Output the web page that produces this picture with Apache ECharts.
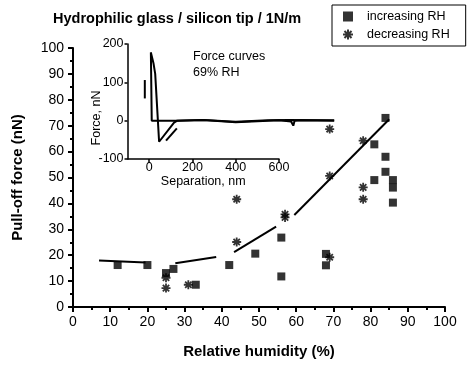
<!DOCTYPE html>
<html>
<head>
<meta charset="utf-8">
<script src="https://cdn.jsdelivr.net/npm/echarts@6/dist/echarts.min.js"></script>
<style>
  html, body { margin: 0; padding: 0; background: #fff; }
  #chart { width: 474px; height: 366px; }
</style>
</head>
<body>
<div id="chart"></div>
<script>
// main plot: pull-off force vs relative humidity
const incRH = [12, 20, 25, 27, 33, 42, 49, 56, 56, 68, 68, 81, 81, 84, 84, 84, 86, 86, 86]
const incForce = [16.2, 16.2, 13.1, 14.7, 8.6, 16.2, 20.6, 26.8, 11.8, 20.5, 16.1, 62.8, 49, 73, 58, 52.2, 49, 46.1, 40.3]

const decRH = [25, 25, 31, 44, 44, 57, 57, 69, 69, 69, 78, 78, 78]
const decForce = [11.3, 7.3, 8.6, 41.6, 25.1, 35.8, 34.6, 68.7, 50.6, 19.2, 64.2, 46.2, 41.6]

// fitted line segments [[x0, y0], [x1, y1]]
const fitSegments = [
  [[7, 18], [19.5, 17.2]],
  [[27.5, 16.9], [38.5, 19.3]],
  [[43.3, 21.2], [54.6, 31]],
  [[59.5, 35.5], [85, 72.5]]
]

// inset: force curves at 69% RH (curve runs past the drawn axis end)
const approachSep = [855, 700, 672, 666, 656, 600, 400, 250, 120, 12, 8]
const approachForce = [0, 1, 0, -13, -2, 1, -4, 2, 0, 0, 178]
const retractSep = [8, 20, 28, 46, 115, 130, 250, 400, 550, 640, 855]
const retractForce = [178, 150, 122, -55, -5, 0, 2, -3, 1, 2, 1]
const snapSep = [78, 128]
const snapForce = [-52, -20]
const markSep = [-20, -20]
const markForce = [58, 106]

const insetSepMin = -100
const insetSepAxisMax = 600
const insetSepDataMax = 860

const zip = (xs, ys) => xs.map((x, i) => [x, ys[i]])

const starPath = 'path://M-1,-5L1,-5L1,5L-1,5Z M-5,-1L5,-1L5,1L-5,1Z ' +
  'M-2.83,-4.24L4.24,2.83L2.83,4.24L-4.24,-2.83Z ' +
  'M2.83,-4.24L4.24,-2.83L-2.83,4.24L-4.24,2.83Z'

const font = 'Liberation Sans'

const chart = echarts.init(document.getElementById('chart'))

const insetLeft = 127.5
const insetWidth = 151.5
// wider hidden grid with the same scale so the curve can extend beyond 600 nm
const insetDataWidth = insetWidth * (insetSepDataMax - insetSepMin) / (insetSepAxisMax - insetSepMin)

const fitSeries = fitSegments.map(seg => ({
  type: 'line',
  xAxisIndex: 0,
  yAxisIndex: 0,
  data: seg,
  symbol: 'none',
  lineStyle: { color: '#000', width: 2 },
  silent: true
}))

const insetLine = (xs, ys) => ({
  type: 'line',
  xAxisIndex: 2,
  yAxisIndex: 2,
  data: zip(xs, ys),
  symbol: 'none',
  lineStyle: { color: '#000', width: 2 },
  silent: true
})

const option = {
  animation: false,
  backgroundColor: '#fff',
  textStyle: { fontFamily: font, color: '#000' },
  title: {
    text: 'Hydrophilic glass / silicon tip / 1N/m',
    left: 48,
    top: 6,
    textStyle: { fontFamily: font, fontSize: 14.5, fontWeight: 'bold', color: '#000' }
  },
  legend: {
    left: 332,
    top: 5,
    orient: 'vertical',
    borderColor: '#000',
    borderWidth: 1,
    padding: [5, 16, 5, 11],
    itemGap: 5,
    itemWidth: 10,
    itemHeight: 10,
    textStyle: { fontFamily: font, fontSize: 12.5, color: '#000', padding: [0, 0, 0, 9] },
    data: [
      { name: 'increasing RH', icon: 'rect' },
      { name: 'decreasing RH', icon: starPath }
    ]
  },
  grid: [
    { left: 73, top: 48, width: 372, height: 259 },
    { left: insetLeft, top: 44, width: insetWidth, height: 115 },
    { left: insetLeft, top: 44, width: insetDataWidth, height: 115 }
  ],
  xAxis: [
    {
      gridIndex: 0,
      type: 'value',
      min: 0,
      max: 100,
      interval: 10,
      name: 'Relative humidity (%)',
      nameLocation: 'middle',
      nameGap: 37,
      nameTextStyle: { fontFamily: font, fontSize: 15, fontWeight: 'bold', color: '#000' },
      axisLine: { lineStyle: { color: '#000', width: 2 } },
      axisTick: { length: 5, lineStyle: { color: '#000', width: 2 } },
      minorTick: { show: true, splitNumber: 2, length: 3, lineStyle: { color: '#000', width: 2 } },
      axisLabel: { fontFamily: font, fontSize: 14, color: '#000', margin: 8 },
      splitLine: { show: false }
    },
    {
      gridIndex: 1,
      type: 'value',
      min: insetSepMin,
      max: insetSepAxisMax,
      name: 'Separation, nm',
      nameLocation: 'middle',
      nameGap: 16,
      nameTextStyle: { fontFamily: font, fontSize: 12.5, color: '#000' },
      axisLine: { onZero: false, lineStyle: { color: '#000', width: 1.5 } },
      axisTick: { length: 4, customValues: [0, 200, 400, 600], lineStyle: { color: '#000', width: 1.5 } },
      axisLabel: { fontFamily: font, fontSize: 12.5, color: '#000', margin: 2, customValues: [0, 200, 400, 600] },
      splitLine: { show: false }
    },
    {
      gridIndex: 2,
      type: 'value',
      min: insetSepMin,
      max: insetSepDataMax,
      show: false
    }
  ],
  yAxis: [
    {
      gridIndex: 0,
      type: 'value',
      min: 0,
      max: 100,
      interval: 10,
      name: 'Pull-off force (nN)',
      nameLocation: 'middle',
      nameGap: 48,
      nameTextStyle: { fontFamily: font, fontSize: 15, fontWeight: 'bold', color: '#000' },
      axisLine: { show: true, lineStyle: { color: '#000', width: 2 } },
      axisTick: { show: true, length: 5, lineStyle: { color: '#000', width: 2 } },
      minorTick: { show: true, splitNumber: 2, length: 3, lineStyle: { color: '#000', width: 2 } },
      axisLabel: { fontFamily: font, fontSize: 14, color: '#000', margin: 9 },
      splitLine: { show: false }
    },
    {
      gridIndex: 1,
      type: 'value',
      min: -100,
      max: 200,
      interval: 100,
      axisLine: { show: true, onZero: false, lineStyle: { color: '#000', width: 1.5 } },
      axisTick: { show: true, length: 3, lineStyle: { color: '#000', width: 1.5 } },
      axisLabel: { fontFamily: font, fontSize: 12.5, color: '#000', margin: 4 },
      splitLine: { show: false }
    },
    {
      gridIndex: 2,
      type: 'value',
      min: -100,
      max: 200,
      show: false
    }
  ],
  graphic: [
    {
      type: 'text',
      left: 193,
      top: 49,
      style: { text: 'Force curves\n69% RH', font: '12.5px "Liberation Sans"', fill: '#000', lineHeight: 16 }
    },
    {
      type: 'text',
      x: 97,
      y: 118,
      rotation: Math.PI / 2,
      style: { text: 'Force, nN', font: '12.5px "Liberation Sans"', fill: '#000', align: 'center', verticalAlign: 'middle' }
    }
  ],
  series: [
    ...fitSeries,
    {
      name: 'increasing RH',
      type: 'scatter',
      xAxisIndex: 0,
      yAxisIndex: 0,
      data: zip(incRH, incForce),
      symbol: 'rect',
      symbolSize: 8,
      itemStyle: { color: '#000' }
    },
    {
      name: 'decreasing RH',
      type: 'scatter',
      xAxisIndex: 0,
      yAxisIndex: 0,
      data: zip(decRH, decForce),
      symbol: starPath,
      symbolSize: 9,
      itemStyle: { color: '#000' }
    },
    insetLine(approachSep, approachForce),
    insetLine(retractSep, retractForce),
    insetLine(snapSep, snapForce),
    insetLine(markSep, markForce)
  ]
}

chart.setOption(option)
</script>
</body>
</html>
